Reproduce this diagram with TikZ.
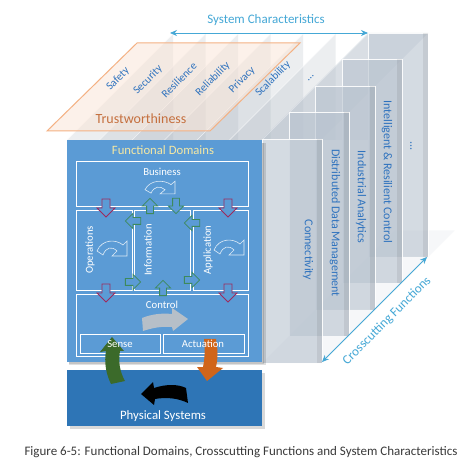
\documentclass[tikz,border=0pt]{standalone}
\usepackage{fontspec}
\setmainfont{Carlito}
\usetikzlibrary{arrows.meta}
\definecolor{panelblue}{HTML}{5B9BD5}
\definecolor{physblue}{HTML}{2E75B6}
\definecolor{labelblue}{HTML}{2E72BE}
\definecolor{cyanblue}{HTML}{45A8D6}
\definecolor{trustfill}{HTML}{FBE5D6}
\definecolor{trustline}{HTML}{F4B183}
\definecolor{trusttext}{HTML}{C5703F}
\definecolor{titleyellow}{HTML}{F5E8A3}
\definecolor{redarrow}{HTML}{9E2A5C}
\definecolor{greenarrow}{HTML}{3D8A5C}
\definecolor{slabfill}{HTML}{B8C3CF}
\definecolor{slicegray}{HTML}{A9B3BE}
\definecolor{darkgreen}{HTML}{3B6A2A}
\definecolor{orangearr}{HTML}{D0651A}
\definecolor{captiongray}{HTML}{3A3A3A}
\tikzset{
 rbox/.style={draw=white, line width=0.8pt, inner sep=0pt, anchor=north west},
 wlabel/.style={text=white, font=\fontsize{10.7}{12}\selectfont, inner sep=0pt},
 cclabel/.style={text=labelblue, font=\fontsize{12}{14}\selectfont, rotate=-90, inner sep=0pt},
 sclabel/.style={text=labelblue, font=\fontsize{11}{13}\selectfont, rotate=45, inner sep=0pt},
 slab/.style={fill=slabfill, fill opacity=0.6, draw=white, draw opacity=0.9, line width=0.8pt, inner sep=0pt, anchor=north west, minimum width=60pt, minimum height=224pt},
 redarr/.style={draw=redarrow, fill=panelblue, line width=0.8pt},
 grnarr/.style={draw=greenarrow, fill=panelblue, line width=0.8pt},
 curvstyle/.style={draw=white, draw opacity=0.8, line width=0.6pt},
 cyanarrow/.style={cyanblue, line width=0.8pt, {Stealth[length=7pt,width=6pt]}-{Stealth[length=7pt,width=6pt]}},
 blockarr/.pic={\path[pic actions] (-4,-9) -- (4,-9) -- (4,0) -- (9,0) -- (0,9) -- (-9,0) -- (-4,0) -- cycle;},
 curvarr/.pic={\path[pic actions] (-15,2) .. controls (-10,-10) and (4,-10) .. (11,-4) -- (15,-8) -- (15,7) -- (0,7) -- (5,2) .. controls (0,-3) and (-6,-2) .. (-9,6) -- cycle;},
}
\begin{document}
\begin{tikzpicture}[x=1pt,y=-1pt]
\useasboundingbox (0,0) rectangle (474,470);
\fill[white] (0,0) rectangle (474,470);

% system characteristic slices (seen through the top)
\foreach \x in {67,99.5,132,164.5,197,229.5,262} {
  \fill[slicegray, fill opacity=0.22] (\x,140) -- (\x+106,34) -- (\x+106,140) -- cycle;
  \draw[white, opacity=0.7, line width=0.6pt] (\x,140) -- (\x+106,34);
}

% crosscutting stack: top face
\fill[slabfill, fill opacity=0.35] (262,139) -- (322,139) -- (428,33) -- (368,33) -- cycle;

% crosscutting slabs, back to front
\foreach \i/\nm in {4/dots,3/irc,2/ia,1/ddm,0/conn} {
  \pgfmathsetmacro\xl{262+26.5*\i}
  \pgfmathsetmacro\tp{139-26.5*\i}
  \pgfmathsetmacro\bt{363-26.5*\i}
  \fill[white!80!slabfill, fill opacity=0.6] (\xl,\bt) -- (\xl+60,\bt) -- (\xl+86.5,\bt-26.5) -- (\xl+26.5,\bt-26.5) -- cycle;
  \node[slab] (\nm) at (\xl,\tp) {};
  \fill[black, opacity=0.07] (\xl+55,\tp) rectangle (\xl+60,\bt);
}
\node[cclabel] (connT) at (308,250) {Connectivity};
\node[cclabel] (ddmT) at (335,223) {Distributed Data Management};
\node[cclabel] (iaT) at (361,197) {Industrial Analytics};
\node[cclabel] (ircT) at (387,172) {Intelligent \& Resilient Control};
\node[cclabel] (dotsT) at (411,146) {...};

% trustworthiness plane
\path[fill=trustfill, fill opacity=0.5, draw=trustline, line width=1pt] (47,131) -- (210,131) -- (300,43) -- (137,43) -- cycle;
\node[text=trusttext, font=\fontsize{14}{16}\selectfont, inner sep=0pt] (trust) at (141,119) {Trustworthiness};
\node[sclabel] (safety) at (118,79) {Safety};
\node[sclabel] (security) at (148,80) {Security};
\node[sclabel] (resilience) at (179,80) {Resilience};
\node[sclabel] (reliability) at (213,79) {Reliability};
\node[sclabel] (privacy) at (242,80) {Privacy};
\node[sclabel] (scalability) at (273,79) {Scalability};
\node[sclabel] (scdots) at (311,78) {...};

% system characteristics arrow
\coordinate (scA) at (170,33);
\coordinate (scB) at (368,33);
\draw[cyanarrow] (scA) -- (scB);
\node[text=cyanblue, font=\fontsize{13}{15}\selectfont, inner sep=0pt] (sctitle) at (266,20) {System Characteristics};

% crosscutting functions arrow
\coordinate (cfA) at (322,362);
\coordinate (cfB) at (427,257);
\draw[cyanarrow] (cfA) -- (cfB);
\node[text=cyanblue, font=\fontsize{13}{15}\selectfont, inner sep=0pt, rotate=45] (cftitle) at (387,321) {Crosscutting Functions};

% functional domains panel
\fill[black, opacity=0.12] (69,143) rectangle (266,365);
\fill[black, opacity=0.12] (69,143) rectangle (264,364);
\node[fill=panelblue, minimum width=195pt, minimum height=222pt, inner sep=0pt, anchor=north west] (fd) at (67,140) {};
\node[text=titleyellow, font=\fontsize{12.7}{14}\selectfont, inner sep=0pt] (fdtitle) at (163,150) {Functional Domains};

\node[rbox, minimum width=172pt, minimum height=45pt] (business) at (76,161) {};
\node[rbox, minimum width=56pt, minimum height=80pt] (operations) at (76,210) {};
\node[rbox, minimum width=56pt, minimum height=80pt] (information) at (134,210) {};
\node[rbox, minimum width=55pt, minimum height=80pt] (application) at (193,210) {};
\node[rbox, minimum width=172pt, minimum height=62pt] (control) at (76,294) {};
\node[rbox, minimum width=80pt, minimum height=19pt] (sense) at (80,334) {};
\node[rbox, minimum width=81pt, minimum height=19pt] (actuation) at (163,334) {};

% curved outline arrows
\pic[curvstyle, yscale=0.85] at (160,188) {curvarr};
\pic[curvstyle] at (112,249) {curvarr};
\pic[curvstyle] at (229,248) {curvarr};

% red block arrows
\pic[redarr] at (106,208) {blockarr};
\pic[redarr] at (228,208) {blockarr};
\pic[redarr] at (106,293) {blockarr};
\pic[redarr] at (228,293) {blockarr};

% green block arrows
\pic[grnarr, scale=0.85, rotate=180] at (150,206) {blockarr};
\pic[grnarr, scale=0.85] at (176,206) {blockarr};
\pic[grnarr, scale=0.85, rotate=-90] at (133,221) {blockarr};
\pic[grnarr, scale=0.85, rotate=-90] at (192,223) {blockarr};
\pic[grnarr, scale=0.85, rotate=90] at (133,282) {blockarr};
\pic[grnarr, scale=0.85, rotate=90] at (192,280) {blockarr};
\pic[grnarr, scale=0.85, rotate=180] at (163,288) {blockarr};

% grey arrow in control
\fill[gray!45, fill opacity=0.85] (142,318) .. controls (152,314) and (162,313) .. (172,314) -- (172,308) -- (188,319) -- (173,331) -- (172,327) .. controls (162,326) and (152,328) .. (143,331) -- cycle;

% physical systems
\fill[black, opacity=0.15] (70,373) rectangle (265,429);
\node[fill=physblue, minimum width=195pt, minimum height=56pt, inner sep=0pt, anchor=north west] (phys) at (67,370) {};
\node[text=white, font=\fontsize{12.8}{14}\selectfont, inner sep=0pt] (physT) at (163,416) {Physical Systems};

% black curved arrow
\fill[black] (141,394) -- (153,382) -- (154,388) .. controls (166,384) and (178,384) .. (186,388) -- (188,403) .. controls (178,398) and (166,397) .. (155,399) -- (154,405) -- cycle;

% green sense arrow
\fill[darkgreen] (112,337) -- (124,351) -- (120,351) .. controls (118,362) and (120,372) .. (125,381) -- (111,384) .. controls (106,374) and (104,362) .. (106,351) -- (100,352) -- cycle;

% orange actuation arrow
\fill[orangearr] (204,339) -- (216,339) .. controls (218,350) and (218,358) .. (216,367) -- (223,368) -- (207,381) -- (197,367) -- (203,367) .. controls (205,358) and (205,348) .. (204,339) -- cycle;

% inner labels (on top of arrows)
\node[wlabel] (businessT) at (162,172) {Business};
\node[wlabel, rotate=90] (operationsT) at (90,250) {Operations};
\node[wlabel, rotate=90] (informationT) at (148,250) {Information};
\node[wlabel, rotate=90] (applicationT) at (208,250) {Application};
\node[wlabel] (controlT) at (162,305) {Control};
\node[wlabel] (senseT) at (120,344) {Sense};
\node[wlabel] (actuationT) at (203,344) {Actuation};

% caption
\node[text=captiongray, font=\fontsize{13}{15}\selectfont, inner sep=0pt] (caption) at (241,452) {Figure 6-5: Functional Domains, Crosscutting Functions and System Characteristics};
\end{tikzpicture}
\end{document}
